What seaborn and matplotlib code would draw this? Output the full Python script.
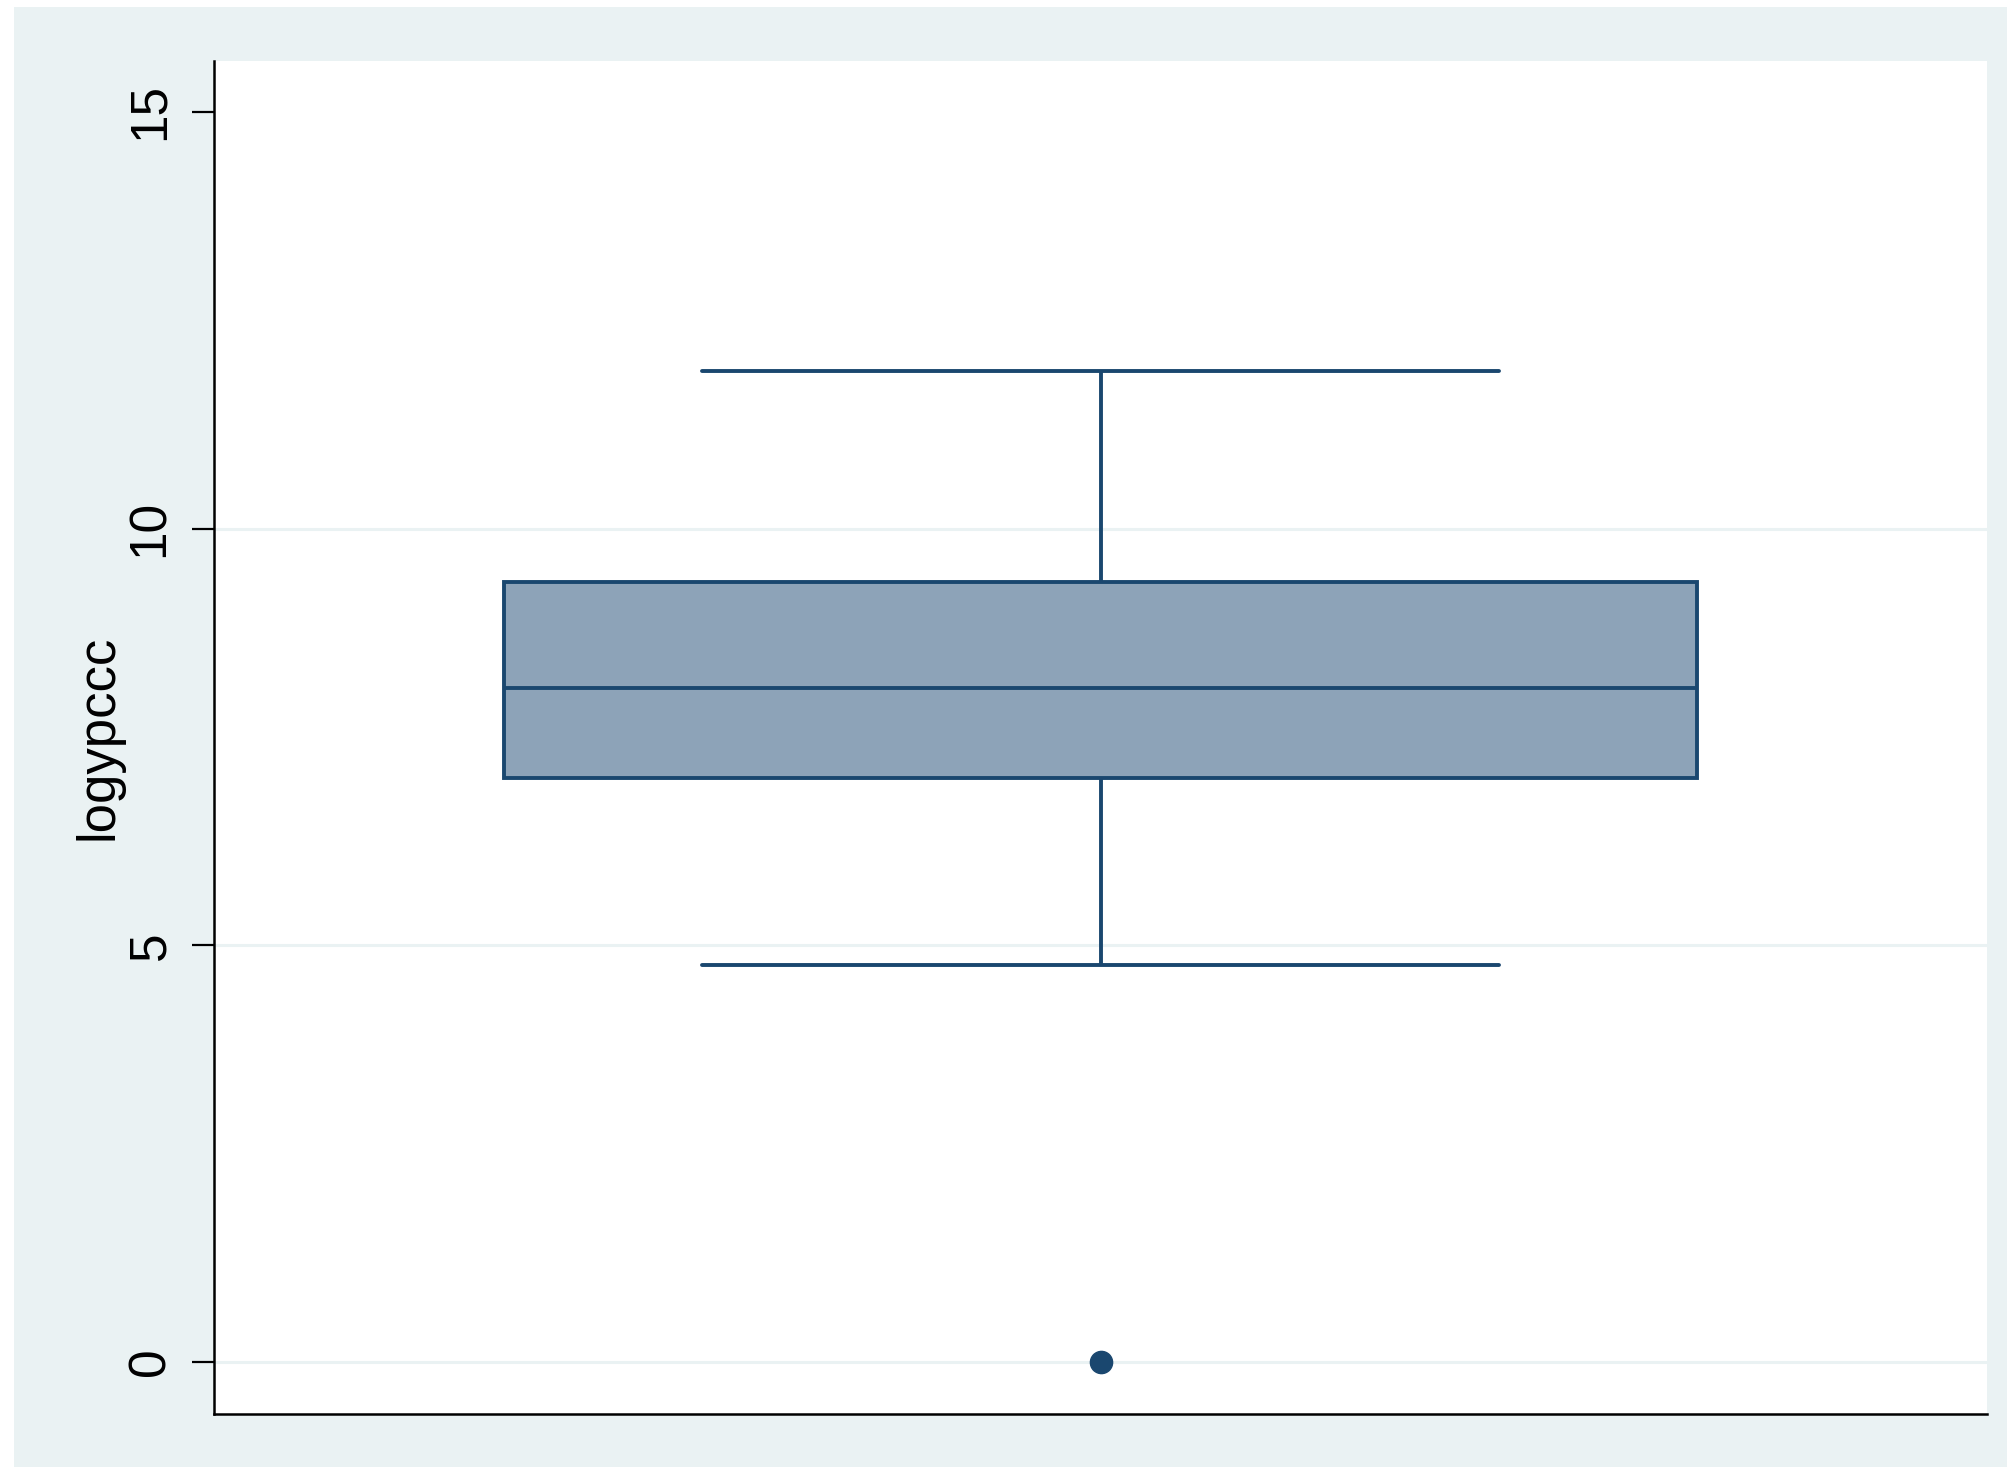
import matplotlib
matplotlib.use("Agg")
import matplotlib.pyplot as plt
import seaborn as sns
from matplotlib.patches import Rectangle

logypccc = [0.0, 4.76, 7.01, 7.6, 8.09, 8.7, 9.36, 10.6, 11.89]
y_ticks = [0, 5, 10, 15]
y_label = "logypccc"

navy = "#1A476F"
box_fill = "#8DA3B8"
region_bg = "#EAF2F3"

sns.set_style("white")
plt.rcParams["font.family"] = ["Liberation Sans", "DejaVu Sans"]
plt.rcParams["text.color"] = "black"
plt.rcParams["axes.labelcolor"] = "black"
plt.rcParams["ytick.color"] = "black"

fig = plt.figure(figsize=(20.07, 14.67), dpi=100)
fig.patch.set_facecolor("white")
fig.patches.append(Rectangle((14 / 2007, 0), 1 - 14 / 2007, 1 - 7 / 1467,
                             transform=fig.transFigure, facecolor=region_bg,
                             edgecolor="none", zorder=-10))

ax = fig.add_axes([214 / 2007, 53 / 1467, (1987 - 214) / 2007, (1414 - 61) / 1467])
ax.set_facecolor("white")

sns.boxplot(y=logypccc, ax=ax, width=0.673, color=box_fill, saturation=1,
            linecolor=navy, linewidth=2.8, capwidths=0.45,
            flierprops=dict(marker="o", markersize=16, markerfacecolor=navy,
                            markeredgecolor=navy))

ax.set_ylim(-0.624, 15.61)
ax.set_xlim(-0.5, 0.5)
ax.set_yticks(y_ticks)
ax.set_yticklabels([str(t) for t in y_ticks])
ax.set_xticks([])
ax.set_xlabel("")
ax.set_ylabel(y_label, fontsize=38, labelpad=2, color="black")

ax.yaxis.grid(True, color=region_bg, linewidth=2.2)
ax.get_ygridlines()[-1].set_visible(False)
ax.set_axisbelow(True)

ax.tick_params(axis="y", labelrotation=90, labelsize=37, length=16, width=1.6,
               pad=12, color="black", labelcolor="black", left=True)
for lbl in ax.get_yticklabels():
    lbl.set_va("center")

for side in ["top", "right"]:
    ax.spines[side].set_visible(False)
for side in ["left", "bottom"]:
    ax.spines[side].set_color("black")
    ax.spines[side].set_linewidth(1.8)

fig.savefig("out.png", dpi=100, facecolor=fig.get_facecolor())
